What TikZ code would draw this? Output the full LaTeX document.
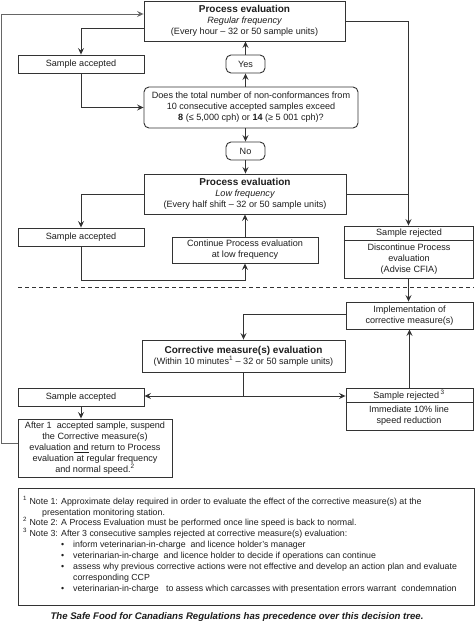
\documentclass[tikz,border=0pt]{standalone}
\usepackage{fontspec}
\setmainfont{Liberation Sans}
\usetikzlibrary{arrows.meta,calc}
\definecolor{linec}{HTML}{333333}
\definecolor{txtc}{HTML}{1E1E1E}
\definecolor{leftc}{HTML}{666666}
\newcommand{\fs}{\fontsize{9.1}{11}\selectfont}
\newcommand{\fn}{\fontsize{8.8}{11}\selectfont}
\newcommand{\ttl}[1]{{\fontsize{10}{11.5}\selectfont\bfseries #1}}
\tikzset{
 box/.style={draw=linec, line width=0.9pt, fill=white, align=center, inner sep=1pt, font=\fs, text=txtc},
 rbox/.style={box, rounded corners=5pt},
 txt/.style={align=center, inner sep=0pt, font=\fs, text=txtc},
 ntxt/.style={anchor=base west, inner sep=0pt, font=\fn, text=txtc},
 arr/.style={draw=linec, line width=0.9pt, -{Stealth[length=6.5pt,width=6pt,inset=2.4pt]}},
 ln/.style={draw=linec, line width=0.9pt},
}
\begin{document}
\begin{tikzpicture}[x=1pt,y=-1pt]
\useasboundingbox[fill=white] (0,0) rectangle (474,626);
% top box
\node[box, minimum width=201pt, minimum height=40pt] (pe1) at (244.5,21)
 {\ttl{Process evaluation}\\{\itshape Regular frequency}\\(Every hour -- 32 or 50 sample units)};
\node[box, minimum width=126pt, minimum height=18pt] (sa1) at (81,64) {Sample accepted};
\node[rbox, minimum width=39pt, minimum height=18pt] (yes) at (245.5,64) {Yes};
\node[rbox, minimum width=214pt, minimum height=41pt] (dec) at (251,107.5)
 {Does the total number of non-conformances from\\10 consecutive accepted samples exceed\\\textbf{8} (≤ 5,000 cph) or \textbf{14} (≥ 5 001 cph)?};
\node[rbox, minimum width=39pt, minimum height=18pt] (no) at (245.5,151) {No};
\node[box, minimum width=202pt, minimum height=40pt] (pe2) at (245,194)
 {\ttl{Process evaluation}\\{\itshape Low frequency}\\(Every half shift -- 32 or 50 sample units)};
\node[box, minimum width=126pt, minimum height=18pt] (sa2) at (81,237) {Sample accepted};
\node[box, minimum width=146pt, minimum height=26pt] (cont) at (245,250)
 {Continue Process evaluation\\at low frequency};
% sample rejected 1
\node[box, minimum width=129pt, minimum height=52pt] (sr1) at (408.5,252) {};
\draw[ln] (sr1.west |- 0,240) -- (sr1.east |- 0,240);
\node[txt] (sr1a) at (409,233) {Sample rejected};
\node[txt] (sr1b) at (409,259) {Discontinue Process\\evaluation\\(Advise CFIA)};
% dashed separator
\draw[draw=linec, line width=0.8pt, dash pattern=on 4pt off 3pt] (18,287) -- (474,287);
\node[box, minimum width=127pt, minimum height=27pt] (impl) at (409.5,315.5)
 {Implementation of\\corrective measure(s)};
\node[box, minimum width=203pt, minimum height=32pt] (cm) at (243.5,356)
 {\ttl{Corrective measure(s) evaluation}\\(Within 10 minutes\textsuperscript{1} -- 32 or 50 sample units)};
\node[box, minimum width=126pt, minimum height=18pt] (sa3) at (81,397) {Sample accepted};
% sample rejected 3
\node[box, minimum width=127pt, minimum height=42pt] (sr3) at (409.5,409) {};
\draw[ln] (sr3.west |- 0,402) -- (sr3.east |- 0,402);
\node[txt] (sr3a) at (409,395) {Sample rejected\,\textsuperscript{3}};
\node[txt] (sr3b) at (409,416) {Immediate 10\% line\\speed reduction};
\node[box, minimum width=154pt, minimum height=58pt] (after) at (95,448)
 {After 1\ \ accepted sample, suspend\\the Corrective measure(s)\\evaluation \underline{and} return to Process\\evaluation at regular frequency\\and normal speed.\textsuperscript{2}};
% notes
\node[draw=linec, line width=0.9pt, minimum width=456pt, minimum height=117pt, inner sep=0pt] (notes) at (246,546.5) {};
\node[ntxt] (n1) at (23,504) {\textsuperscript{1} Note 1: Approximate delay required in order to evaluate the effect of the corrective measure(s) at the};
\node[ntxt] (n1b) at (42,515) {presentation monitoring station.};
\node[ntxt] (n2) at (23,525) {\textsuperscript{2} Note 2: A Process Evaluation must be performed once line speed is back to normal.};
\node[ntxt] (n3) at (23,536) {\textsuperscript{3} Note 3: After 3 consecutive samples rejected at corrective measure(s) evaluation:};
\foreach \yy/\tt [count=\i] in {547/{inform veterinarian-in-charge\ \ and licence holder's manager},558/{veterinarian-in-charge\ \ and licence holder to decide if operations can continue},569/{assess why previous corrective actions were not effective and develop an action plan and evaluate},591/{veterinarian-in-charge\ \ \ to assess which carcasses with presentation errors warrant\ \ condemnation}}{
 \node[ntxt] (b\i) at (61,\yy) {\textbullet};
 \node[ntxt] (bt\i) at (73,\yy) {\tt};
}
\node[ntxt] (bt3b) at (73,580) {corresponding CCP};
\node[inner sep=0pt, font=\fontsize{9.6}{11}\selectfont\bfseries\itshape, text=txtc] (foot) at (237,617)
 {The Safe Food for Canadians Regulations has precedence over this decision tree.};
% connectors
\draw[arr, draw=leftc] ([yshift=5pt]after.west) -- ++(-16,0) |- ([yshift=7pt]pe1.west);
\draw[arr] ([yshift=-7pt]pe1.west) -| (sa1.north);
\draw[arr] (sa1.south) |- (dec.west);
\draw[arr] (yes.south |- dec.north) -- (yes.south);
\draw[arr] (yes.north) -- (yes.north |- pe1.south);
\draw[arr] (pe1.east) -| (sr1.north);
\draw[ln] (pe2.east) -- (sr1.north |- pe2.east);
\draw[arr] (no.north |- dec.south) -- (no.north);
\draw[arr] (no.south) -- (no.south |- pe2.north);
\draw[arr] (pe2.west) -| (sa2.north);
\draw[arr] (sa2.south) -- ++(0,34) -| (cont.south);
\draw[arr] (cont.north) -- (cont.north |- pe2.south);
\draw[arr] (sr1.south) -- (sr1.south |- impl.north);
\draw[arr] ([yshift=1.5pt]impl.west) -| (cm.north);
\coordinate (split) at (cm.south |- 0,396);
\draw[ln] (cm.south) -- (split);
\draw[arr] (split) -- (sa3.east |- split);
\draw[arr] (split) -- (sr3.west |- split);
\draw[arr] (sr3.north) -- (sr3.north |- impl.south);
\draw[arr] (sa3.south) -- (sa3.south |- after.north);
\end{tikzpicture}
\end{document}
